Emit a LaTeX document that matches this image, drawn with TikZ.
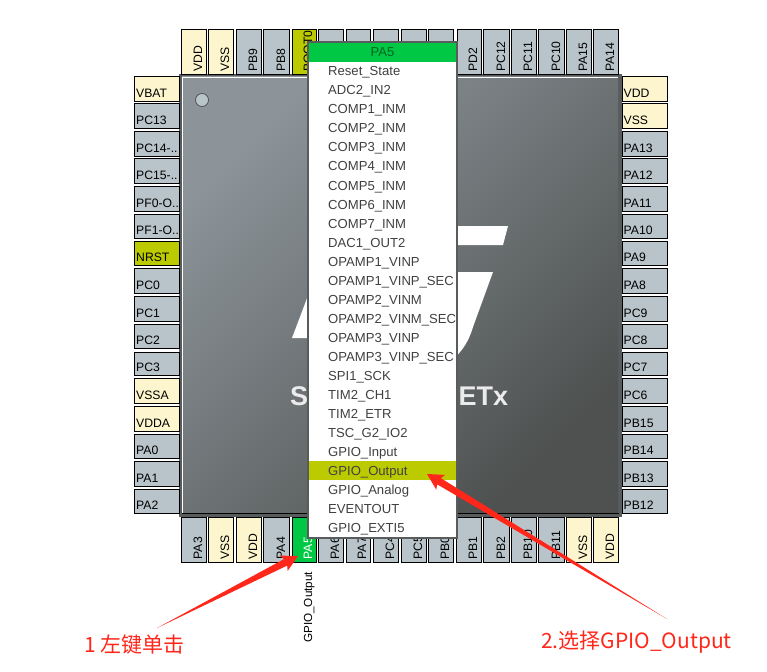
\documentclass[tikz,border=0pt]{standalone}
\usepackage{xcolor}
\usepackage{fontspec}
\setmainfont{Liberation Sans}
\newfontfamily\cjkfont{Noto Sans CJK SC}
\usepackage{tikz}
\usetikzlibrary{calc}
\definecolor{pingray}{RGB}{184,196,202}
\definecolor{pinyellow}{RGB}{253,245,205}
\definecolor{pinolive}{RGB}{188,203,0}
\definecolor{pingreen}{RGB}{0,200,68}
\definecolor{chipedge}{RGB}{88,92,93}
\definecolor{chiptop}{RGB}{140,148,153}
\definecolor{chipbottom}{RGB}{78,81,80}
\definecolor{noteread}{RGB}{255,38,26}
\tikzset{
	pinbox/.style={shape=rectangle, draw=black, line width=0.9pt, inner sep=0, outer sep=0},
	pinlabel/.style={inner sep=0, font=\fontsize{12.2}{13}\selectfont},
	menuitem/.style={anchor=base west, inner sep=0, text=black!75, font=\fontsize{13.1}{14}\selectfont},
	notelabel/.style={inner sep=0, text=noteread, font=\cjkfont\fontsize{21}{23}\selectfont},
}
% tapered red pointer, from tail to tip
\newcommand{\redpointer}[2]{
	\fill[noteread] (#1) -- ($(#2)!14pt!(#1)!3.6pt!90:(#1)$) -- ($(#2)!16pt!(#1)!8.6pt!90:(#1)$) -- (#2) -- ($(#2)!16pt!(#1)!8.6pt!-90:(#1)$) -- ($(#2)!14pt!(#1)!3.6pt!-90:(#1)$) -- cycle;
}
\begin{document}
\begin{tikzpicture}[x=1pt, y=-1pt]
	\useasboundingbox (0, 0) rectangle (767, 671);
	% Package body:
	\node[shape=rectangle, fill=chipedge, inner sep=0, minimum width=443, minimum height=443](Chip) at (400.5, 295.5){};
	\shade[top color=chiptop, bottom color=chipbottom, shading angle=45] (182, 77) rectangle (618, 513);
	\draw[white, line width=0.9pt] (182, 513) |- (618, 77);
	\draw[black, line width=0.9pt] (182, 513.5) -- (619, 513.5);
	\node[shape=circle, draw=black!70, fill=pingray, line width=0.7pt, inner sep=0, minimum size=13](Dot) at (202, 100){};
	% Logo pieces and part number, mostly hidden behind the menu:
	\fill[white] (440, 226) -- (508, 226) -- (503, 245) -- (440, 245) -- cycle;
	\fill[white] (450, 272) -- (493, 272) -- (473, 327) .. controls (469, 340) and (464, 350) .. (450, 362) -- cycle;
	\fill[white] (309, 293) -- (292, 338) -- (309, 338) -- cycle;
	\node[inner sep=0, text=white!92!black, font=\bfseries\fontsize{27}{29}\selectfont, anchor=base west](PartLeft) at (290, 405){S};
	\node[inner sep=0, text=white!92!black, font=\bfseries\fontsize{27}{29}\selectfont, anchor=base west](PartRight) at (458.5, 405){ETx};
	% Left and right pin rows:
	\foreach \lbl/\ya/\yb/\clr [count=\n] in {VBAT/76/102/pinyellow, PC13/103/129/pingray, PC14-../131/157/pingray, PC15-../158/184/pingray, PF0-O../186/212/pingray, PF1-O../214/239/pingray, NRST/241/266/pinolive, PC0/268/294/pingray, PC1/296/322/pingray, PC2/324/349/pingray, PC3/352/376/pingray, VSSA/378/404/pinyellow, VDDA/406/432/pinyellow, PA0/434/459/pingray, PA1/461/487/pingray, PA2/489/514/pingray}
		\node[pinbox, fill=\clr, minimum width=45, minimum height=\yb-\ya-1](L\n) at (157, {(\ya+\yb)/2}){} node[pinlabel, anchor=base west] at ([xshift=1.5, yshift=4]L\n.south west){\lbl};
	\foreach \lbl/\ya/\yb/\clr [count=\n] in {VDD/76/102/pinyellow, VSS/103/129/pinyellow, PA13/131/157/pingray, PA12/158/184/pingray, PA11/186/212/pingray, PA10/214/239/pingray, PA9/241/266/pingray, PA8/268/294/pingray, PC9/296/322/pingray, PC8/324/349/pingray, PC7/352/376/pingray, PC6/378/404/pingray, PB15/406/432/pingray, PB14/434/459/pingray, PB13/461/487/pingray, PB12/489/514/pingray}
		\node[pinbox, fill=\clr, minimum width=45, minimum height=\yb-\ya-1](R\n) at (644.5, {(\ya+\yb)/2}){} node[pinlabel, anchor=base west] at ([xshift=1.5, yshift=4]R\n.south west){\lbl};
	% Top and bottom pin rows:
	\foreach \lbl/\xa/\xb/\clr [count=\n] in {VDD/181/207/pinyellow, VSS/208/234/pinyellow, PB9/236/262/pingray, PB8/263/290/pingray, BOOT0/292/317/pinolive, /318/344/pingray, /346/371/pingray, /373/399/pingray, /401/427/pingray, /428/454/pingray, PD2/457/482/pingray, PC12/483/510/pingray, PC11/511/537/pingray, PC10/538/565/pingray, PA15/566/592/pingray, PA14/593/619/pingray}
		\node[pinbox, fill=\clr, minimum height=45, minimum width=\xb-\xa-1](T\n) at ({(\xa+\xb)/2}, 51.5){} node[pinlabel, rotate=90, anchor=base west] at ([xshift=-4.5, yshift=2]T\n.south east){\lbl};
	\foreach \lbl/\xa/\xb/\clr [count=\n] in {PA3/181/207/pingray, VSS/208/234/pinyellow, VDD/236/262/pinyellow, PA4/263/290/pingray, /292/317/pingreen, PA6/318/344/pingray, PA7/346/371/pingray, PC4/373/399/pingray, PC5/401/427/pingray, PB0/428/454/pingray, PB1/456/482/pingray, PB2/483/510/pingray, PB10/511/537/pingray, PB11/538/565/pingray, VSS/566/592/pinyellow, VDD/593/619/pinyellow}
		\node[pinbox, fill=\clr, minimum height=45, minimum width=\xb-\xa-1](B\n) at ({(\xa+\xb)/2}, 539.5){} node[pinlabel, rotate=90, anchor=base west] at ([xshift=-4.5, yshift=2.5]B\n.south east){\lbl};
	\node[pinlabel, rotate=90, anchor=base west, text=white](PinLabel) at ([xshift=-4.5, yshift=2.5]B5.south east){PA5};
	\node[pinlabel, rotate=90, anchor=base west, font=\fontsize{11.7}{12}\selectfont](Signal) at (312, 643){GPIO\_Output};
	% Popup menu:
	\node[shape=rectangle, draw=chipedge, fill=white, line width=2pt, inner sep=0, minimum width=149, minimum height=495](Menu) at (382.5, 290){};
	\node[shape=rectangle, fill=pingreen, inner sep=0, minimum width=147, minimum height=19](MenuHead) at (382.5, 52.5){};
	\node[inner sep=0, text=black!50!pingreen, font=\fontsize{13}{14}\selectfont] at (MenuHead.center){PA5};
	\node[shape=rectangle, fill=pinolive, inner sep=0, minimum width=147, minimum height=19](MenuPick) at (382.5, 470.5){};
	\foreach \lbl [count=\n] in {Reset\_State, ADC2\_IN2, COMP1\_INM, COMP2\_INM, COMP3\_INM, COMP4\_INM, COMP5\_INM, COMP6\_INM, COMP7\_INM, DAC1\_OUT2, OPAMP1\_VINP, OPAMP1\_VINP\_SEC, OPAMP2\_VINM, OPAMP2\_VINM\_SEC, OPAMP3\_VINP, OPAMP3\_VINP\_SEC, SPI1\_SCK, TIM2\_CH1, TIM2\_ETR, TSC\_G2\_IO2, GPIO\_Input, GPIO\_Output, GPIO\_Analog, EVENTOUT, GPIO\_EXTI5}
		\node[menuitem](Item\n) at (328, {57+19*\n}){\lbl};
	% Red notes and pointers:
	\node[notelabel, anchor=west](NoteOne) at (84, 645){1 左键单击};
	\node[notelabel, anchor=west](NoteTwo) at (541, 642){2.选择GPIO\_Output};
	\coordinate (TailOne) at (157, 628);
	\coordinate (TipOne) at (298, 556);
	\coordinate (TailTwo) at (667, 619);
	\coordinate (TipTwo) at (427, 474);
	\redpointer{TailOne}{TipOne}
	\redpointer{TailTwo}{TipTwo}
\end{tikzpicture}
\end{document}
